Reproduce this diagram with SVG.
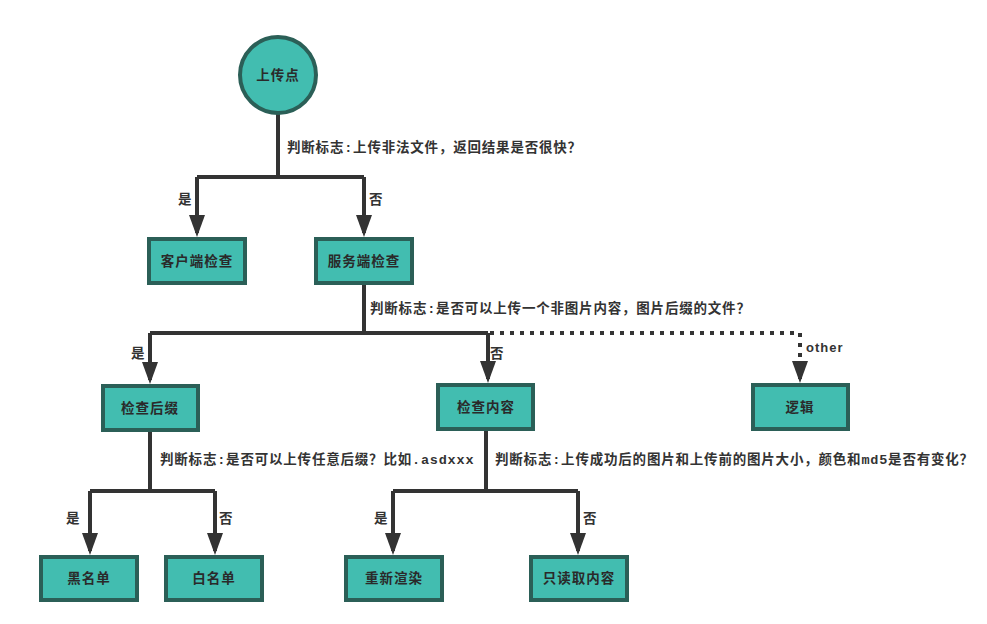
<svg xmlns="http://www.w3.org/2000/svg" width="987" height="624" viewBox="0 0 987 624">
<defs>
<marker id="arr" markerUnits="userSpaceOnUse" markerWidth="22" markerHeight="16" viewBox="0 0 22 16" refX="18" refY="8" orient="auto">
<path d="M0,0 L22,8 L0,16 Z" fill="#333"/>
</marker>
<style>
.node rect, .node circle { fill: #42bdb0; stroke: #2b5f57; stroke-width: 4; }
.node text { font-family: "Noto Sans CJK SC", "Liberation Sans", sans-serif; font-size: 13.5px; font-weight: bold; fill: #2a2a2a; text-anchor: middle; letter-spacing: 1px; }
.c { fill: none; stroke: #333; stroke-width: 4; }
.a { fill: none; stroke: #333; stroke-width: 4; }
.d { fill: none; stroke: #333; stroke-width: 4; stroke-dasharray: 4 6; }
.lbl { font-family: "Liberation Mono", "Noto Sans CJK SC", monospace; font-size: 13.5px; font-weight: bold; fill: #333; letter-spacing: 0.8px; }
.oth { font-family: "Liberation Sans", sans-serif; font-size: 13px; font-weight: bold; fill: #333; letter-spacing: 1px; }
</style>
</defs>
<rect width="987" height="624" fill="#ffffff"/>
<g id="connectors">
<path class="c" d="M278,113 V177 M197,177 H364"/>
<path class="a" d="M197,177 V233" marker-end="url(#arr)"/>
<path class="a" d="M364,177 V233" marker-end="url(#arr)"/>
<path class="c" d="M364,283 V333 M150,333 H488"/>
<path class="d" d="M370,333 H800 V362"/>
<path class="a" d="M150,333 V380" marker-end="url(#arr)"/>
<path class="a" d="M488,333 V379" marker-end="url(#arr)"/>
<path class="a" d="M800,362 V379" marker-end="url(#arr)"/>
<path class="c" d="M150,430 V491 M90,491 H215"/>
<path class="a" d="M90,491 V551" marker-end="url(#arr)"/>
<path class="a" d="M215,491 V551" marker-end="url(#arr)"/>
<path class="c" d="M486,429 V491 M393,491 H578"/>
<path class="a" d="M393,491 V551" marker-end="url(#arr)"/>
<path class="a" d="M578,491 V551" marker-end="url(#arr)"/>
<text class="lbl" x="287" y="152">判断标志:上传非法文件，返回结果是否很快？</text>
<text class="lbl" x="178" y="204">是</text>
<text class="lbl" x="369" y="204">否</text>
<text class="lbl" x="370" y="313">判断标志:是否可以上传一个非图片内容，图片后缀的文件？</text>
<text class="lbl" x="131" y="358">是</text>
<text class="lbl" x="490" y="358">否</text>
<text class="oth" x="806" y="352">other</text>
<text class="lbl" x="160" y="464">判断标志:是否可以上传任意后缀？比如.asdxxx</text>
<text class="lbl" x="66" y="523">是</text>
<text class="lbl" x="219" y="523">否</text>
<text class="lbl" x="495" y="464">判断标志:上传成功后的图片和上传前的图片大小，颜色和md5是否有变化？</text>
<text class="lbl" x="374" y="523">是</text>
<text class="lbl" x="583" y="523">否</text>
</g>
<g id="n-upload" class="node"><circle cx="278" cy="75" r="38"/><text x="278" y="80">上传点</text></g>
<g id="n-client" class="node"><rect x="149" y="239" width="96" height="44"/><text x="197" y="266">客户端检查</text></g>
<g id="n-server" class="node"><rect x="316" y="239" width="96" height="44"/><text x="364" y="266">服务端检查</text></g>
<g id="n-suffix" class="node"><rect x="103" y="386" width="95" height="44"/><text x="150" y="413">检查后缀</text></g>
<g id="n-content" class="node"><rect x="438" y="385" width="95" height="44"/><text x="486" y="412">检查内容</text></g>
<g id="n-logic" class="node"><rect x="753" y="385" width="95" height="44"/><text x="800" y="412">逻辑</text></g>
<g id="n-black" class="node"><rect x="41" y="557" width="96" height="43"/><text x="89" y="583">黑名单</text></g>
<g id="n-white" class="node"><rect x="166" y="557" width="96" height="43"/><text x="214" y="583">白名单</text></g>
<g id="n-render" class="node"><rect x="346" y="557" width="96" height="43"/><text x="394" y="583">重新渲染</text></g>
<g id="n-read" class="node"><rect x="531" y="557" width="96" height="43"/><text x="579" y="583">只读取内容</text></g>
</svg>
